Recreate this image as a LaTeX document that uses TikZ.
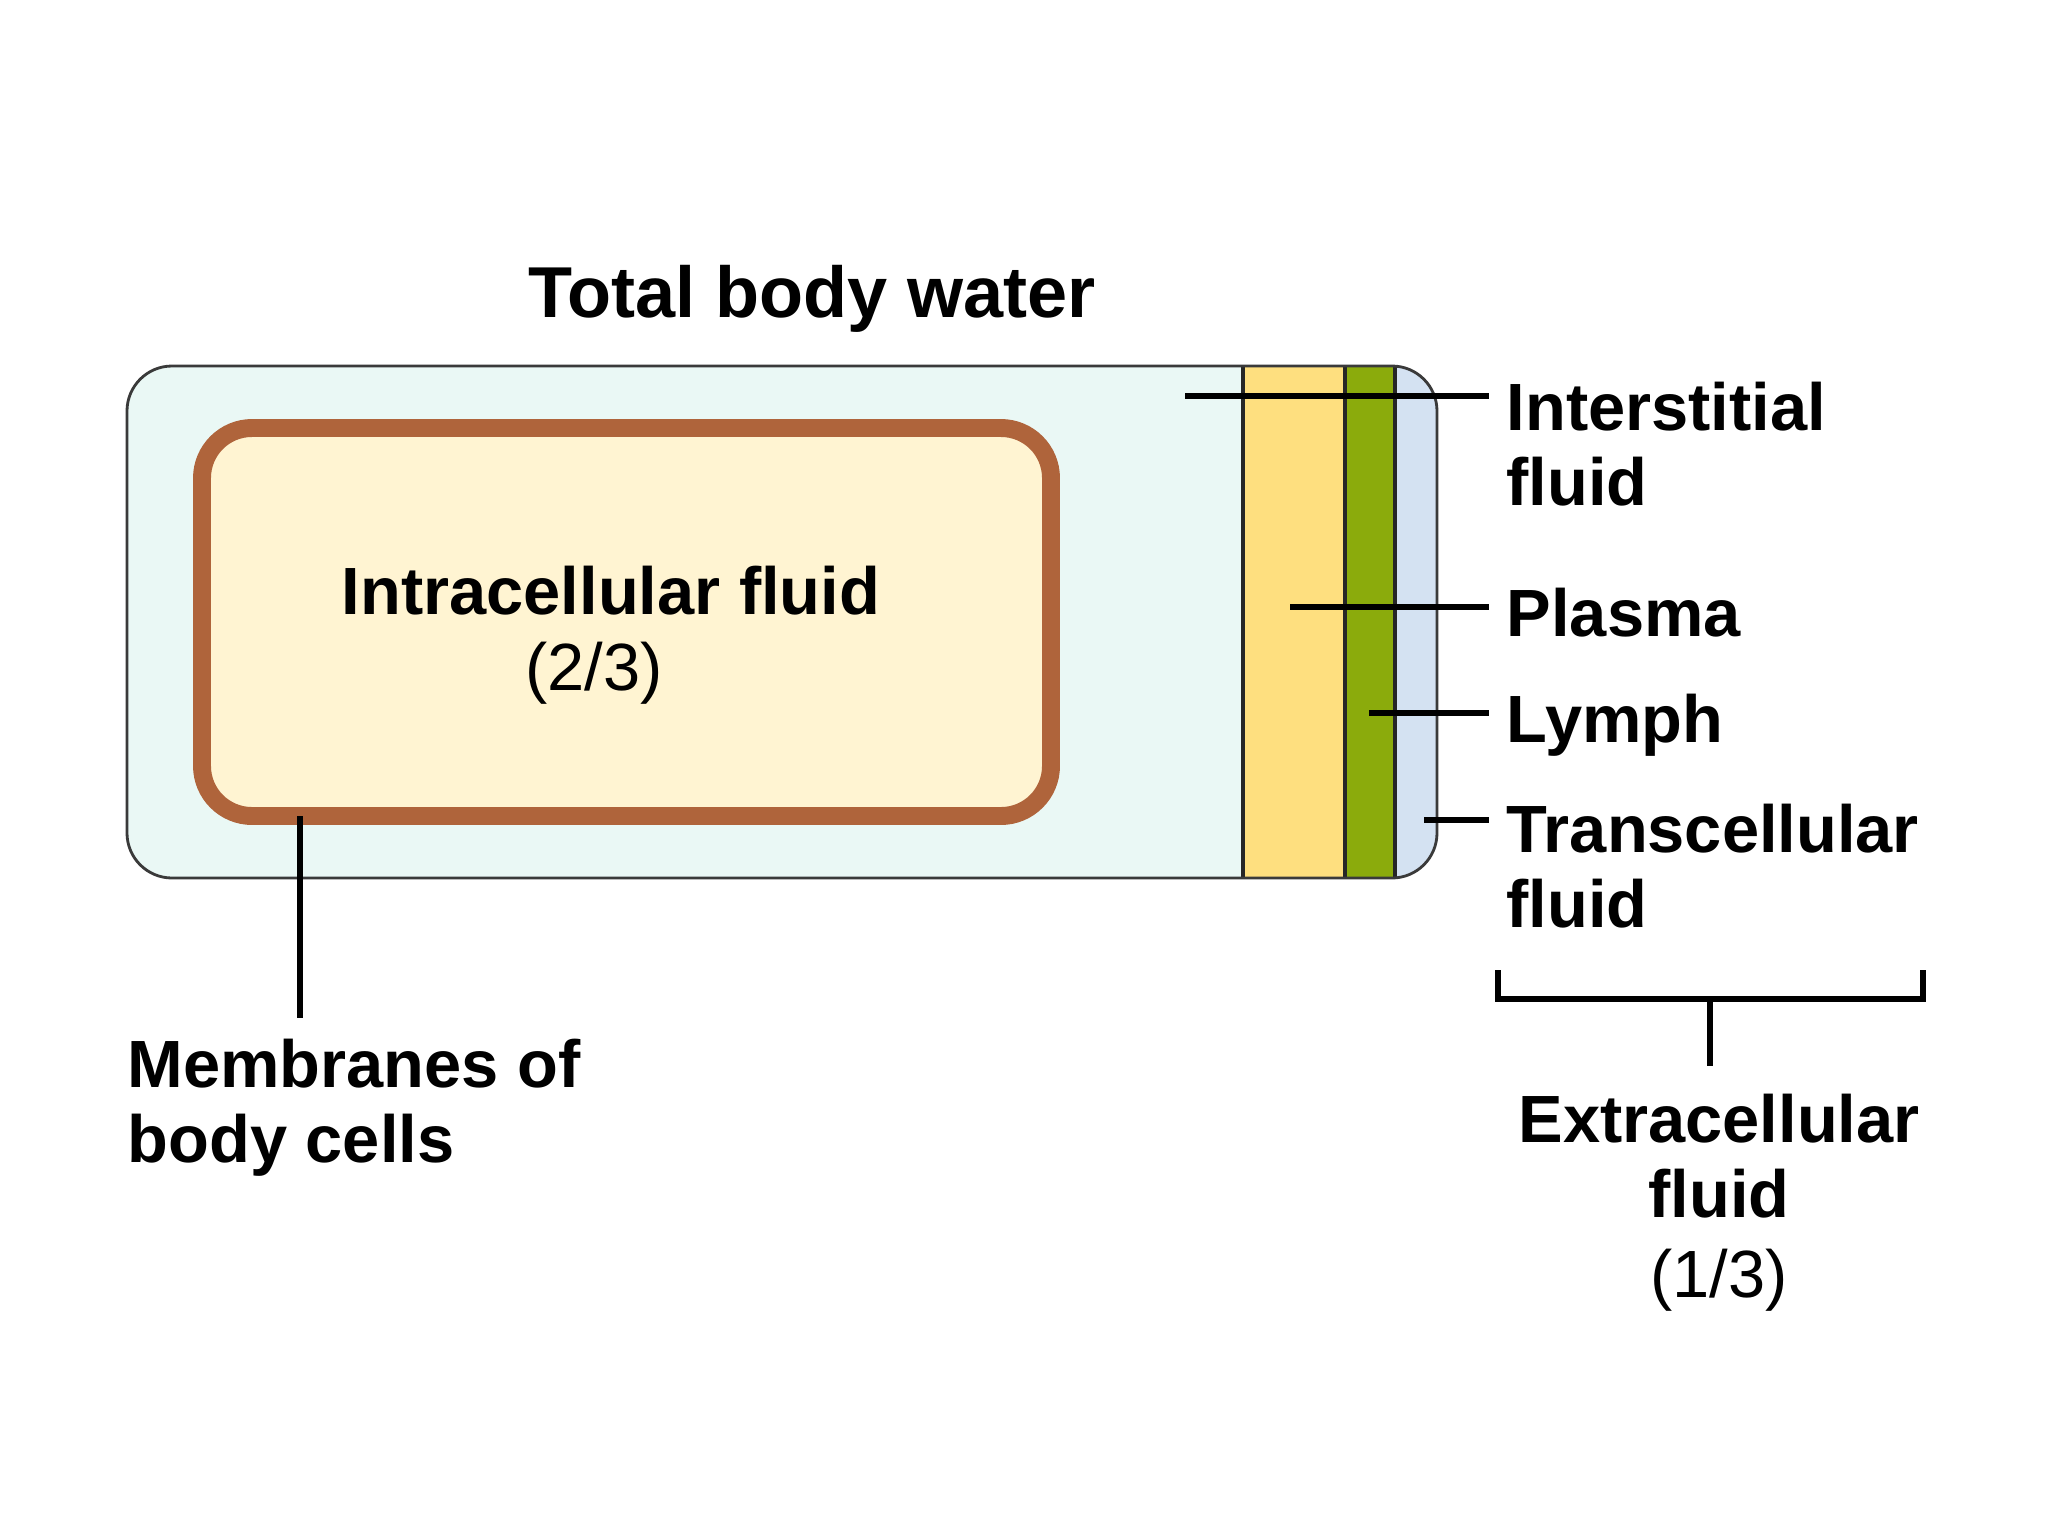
\documentclass[tikz,border=0pt]{standalone}
\usepackage{fontspec}
\setmainfont{Liberation Sans}
\usetikzlibrary{calc,positioning}
\definecolor{mint}{HTML}{EAF8F5}
\definecolor{plasma}{HTML}{FEDF7F}
\definecolor{lymph}{HTML}{8BAB0C}
\definecolor{trans}{HTML}{D4E2F2}
\definecolor{membrane}{HTML}{AF643B}
\definecolor{cyto}{HTML}{FFF4D2}
\definecolor{edge}{HTML}{3A3A3A}
\tikzset{lead/.style={draw=black,line width=1.45pt,shorten >=.17cm},divider/.style={draw=black!85,line width=1.1pt},lab/.style={font=\fontsize{19}{21.3}\selectfont\bfseries,inner sep=0pt,align=left,anchor=base west},frac/.style={font=\fontsize{19}{21.3}\selectfont,inner sep=0pt,anchor=base}}

\begin{document}
\begin{tikzpicture}[x=.01cm,y=-.01cm]
\useasboundingbox (0,0) rectangle (2048,1536);
\begin{scope}\clip[rounded corners=.45cm] (127,366) rectangle (1437,878);
\fill[mint] (127,366) rectangle (1437,878);\fill[plasma] (1243,366) rectangle (1345,878);\fill[lymph] (1345,366) rectangle (1395,878);\fill[trans] (1395,366) rectangle (1437,878);
\end{scope}
\foreach \x in {1243,1345,1395}{\draw[divider] (\x,366)--(\x,878);}
\draw[edge,line width=.8pt,rounded corners=.45cm] (127,366) rectangle (1437,878);
\draw[membrane,fill=cyto,line width=5.1pt,rounded corners=.5cm] (202,428) rectangle (1051,816);
\node[font=\fontsize{20.5}{23}\selectfont\bfseries,inner sep=0pt,anchor=base] (title) at (812,317) {Total body water};
\node[lab,anchor=base] (icf) at (611,614) {Intracellular fluid};\node[frac] (icfpart) at (594,690) {(2/3)};
% multi-line labels sit on their last baseline
\node[lab] (inter) at (1506,505) {Interstitial\\fluid};\node[lab] (plas) at (1506,636) {Plasma};\node[lab] (lym) at (1506,742) {Lymph};\node[lab] (transc) at (1506,927) {Transcellular\\fluid};
\node[lab] (memb) at (127,1162) {Membranes of\\body cells};
\node[lab,align=center,anchor=base] (ecf) at (1719,1217) {Extracellular\\fluid};\node[frac] (ecfpart) at (1719,1297) {(1/3)};
\coordinate (pI) at (1185,396);\coordinate (pP) at (1290,607);\coordinate (pL) at (1369,713);\coordinate (pT) at (1424,820);
\draw[lead] (pI)--(pI -| inter.west);\draw[lead] (pP)--(pP -| plas.west);\draw[lead] (pL)--(pL -| lym.west);\draw[lead] (pT)--(pT -| transc.west);
\coordinate (pM) at (300,816);\draw[lead,shorten >=.2cm] (pM)--(pM |- memb.north);
\draw[line width=1.7pt] (1498,970)--(1498,999)--(1923,999)--(1923,970);
\coordinate (stem) at (1710,999);\draw[lead,shorten >=.27cm] (stem)--(stem |- ecf.north);
\end{tikzpicture}
\end{document}
